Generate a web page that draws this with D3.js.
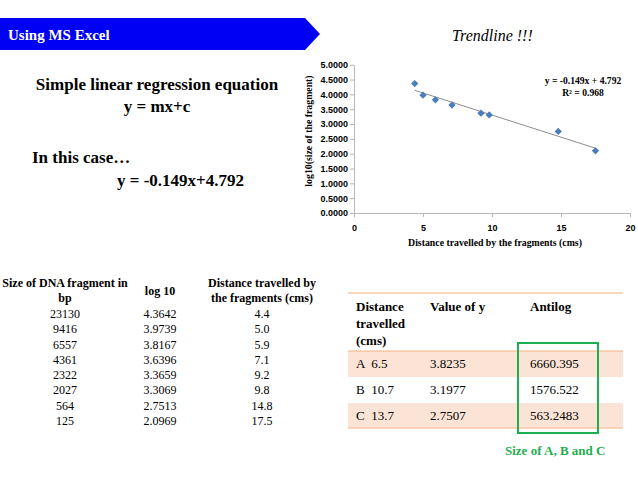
<!DOCTYPE html>
<html>
<head>
<meta charset="utf-8">
<script src="https://cdn.jsdelivr.net/npm/d3@7"></script>
<style>
  body { margin: 0; background: #fff; }
  svg { display: block; font-family: "Liberation Serif", "Times New Roman", serif; }
  .axis path, .axis line { stroke: #b8b8b8; }
  .axis text { font-size: 9px; font-weight: bold; fill: #000; }
</style>
</head>
<body>
<svg id="slide" width="638" height="478"></svg>
<script>
// fragment data (left table + scatter)
const sizes = [23130, 9416, 6557, 4361, 2322, 2027, 564, 125];
const logs = [4.3642, 3.9739, 3.8167, 3.6396, 3.3659, 3.3069, 2.7513, 2.0969];
const dists = [4.4, 5.0, 5.9, 7.1, 9.2, 9.8, 14.8, 17.5];
const logLabels = ["4.3642", "3.9739", "3.8167", "3.6396", "3.3659", "3.3069", "2.7513", "2.0969"];
const distLabels = ["4.4", "5.0", "5.9", "7.1", "9.2", "9.8", "14.8", "17.5"];

// trendline
const slope = -0.149;
const intercept = 4.792;

// right table
const unknowns = ["A", "B", "C"];
const unkDist = ["6.5", "10.7", "13.7"];
const unkY = ["3.8235", "3.1977", "2.7507"];
const unkAnti = ["6660.395", "1576.522", "563.2483"];

const xTicks = [0, 5, 10, 15, 20];
const yTicks = [0, 0.5, 1, 1.5, 2, 2.5, 3, 3.5, 4, 4.5, 5];

const svg = d3.select('#slide');

// header banner
svg.append('path')
  .attr('d', 'M0,18 L305,18 L320,34 L305,50 L0,50 Z')
  .attr('fill', '#0000f5');
svg.append('text')
  .attr('x', 8).attr('y', 40)
  .attr('fill', '#fff')
  .attr('font-weight', 'bold')
  .attr('font-size', 15)
  .text('Using MS Excel');
svg.append('text')
  .attr('x', 452).attr('y', 41)
  .attr('font-style', 'italic')
  .attr('font-size', 16)
  .text('Trendline !!!');

// left prose
let prose = [
  {t: 'Simple linear regression equation', x: 157, y: 90, a: 'middle'},
  {t: 'y = mx+c', x: 157, y: 112, a: 'middle'},
  {t: 'In this case\u2026', x: 32, y: 163, a: 'start'},
  {t: 'y = -0.149x+4.792', x: 117, y: 186, a: 'start'},
];
svg.selectAll('.prose').data(prose).enter()
  .append('text')
  .attr('x', d => d.x).attr('y', d => d.y)
  .attr('text-anchor', d => d.a)
  .attr('font-weight', 'bold')
  .attr('font-size', 17)
  .text(d => d.t);

// scatter chart
const x = d3.scaleLinear().domain([0, 20]).range([354, 630]);
const y = d3.scaleLinear().domain([0, 5]).range([213, 64.7]);

svg.append('g')
  .attr('class', 'axis')
  .attr('transform', 'translate(0,' + y(0) + ')')
  .call(d3.axisBottom(x).tickValues(xTicks).tickSize(4).tickSizeOuter(0).tickPadding(9))
  .selectAll('text').attr('dy', '0.5em');

svg.append('g')
  .attr('class', 'axis')
  .attr('transform', 'translate(' + x(0) + ',0)')
  .call(d3.axisLeft(y).tickValues(yTicks).tickSize(4).tickSizeOuter(0).tickPadding(2)
    .tickFormat(d3.format('.4f')));

svg.append('text')
  .attr('x', 495).attr('y', 246)
  .attr('text-anchor', 'middle')
  .attr('font-weight', 'bold')
  .attr('font-size', 9.8)
  .text('Distance travelled by the fragments (cms)');
svg.append('text')
  .attr('transform', 'translate(312,131) rotate(-90)')
  .attr('text-anchor', 'middle')
  .attr('font-weight', 'bold')
  .attr('font-size', 9.8)
  .text('log10(size of the fragment)');

// trendline over the data range
const xr = d3.extent(dists);
svg.append('line')
  .attr('x1', x(xr[0])).attr('y1', y(slope * xr[0] + intercept))
  .attr('x2', x(xr[1])).attr('y2', y(slope * xr[1] + intercept))
  .attr('stroke', '#8c8c8c')
  .attr('stroke-width', 1);

const diamond = d3.symbol().type(d3.symbolDiamond2).size(34);
svg.selectAll('.pt').data(dists).enter()
  .append('path')
  .attr('d', diamond)
  .attr('transform', (d, i) => 'translate(' + x(d) + ',' + y(logs[i]) + ')')
  .attr('fill', '#4a7ebb');

svg.append('text')
  .attr('x', 583).attr('y', 84)
  .attr('text-anchor', 'middle')
  .attr('font-weight', 'bold')
  .attr('font-size', 9.6)
  .text('y = -0.149x + 4.792');
svg.append('text')
  .attr('x', 583).attr('y', 96)
  .attr('text-anchor', 'middle')
  .attr('font-weight', 'bold')
  .attr('font-size', 9.6)
  .text('R\u00b2 = 0.968');

// left table
const colX = [65, 160, 262];
const headers = [
  {c: 0, lines: ['Size of DNA fragment in', 'bp'], y: 287},
  {c: 1, lines: ['log 10'], y: 295},
  {c: 2, lines: ['Distance travelled by', 'the fragments (cms)'], y: 287},
];
headers.forEach(h => {
  h.lines.forEach((l, k) => {
    svg.append('text')
      .attr('x', colX[h.c]).attr('y', h.y + k * 15)
      .attr('text-anchor', 'middle')
      .attr('font-weight', 'bold')
      .attr('font-size', 12)
      .text(l);
  });
});
const rowY = d3.scaleLinear().domain([0, 7]).range([318, 425]);
sizes.forEach((s, i) => {
  [String(s), logLabels[i], distLabels[i]].forEach((t, c) => {
    svg.append('text')
      .attr('x', colX[c]).attr('y', rowY(i))
      .attr('text-anchor', 'middle')
      .attr('font-size', 12)
      .text(t);
  });
});

// right table
const tl = 348, tr = 623;
const bandY = [351, 377, 403, 428];
[0, 2].forEach(i => {
  svg.append('rect')
    .attr('x', tl).attr('y', bandY[i])
    .attr('width', tr - tl).attr('height', bandY[i + 1] - bandY[i])
    .attr('fill', '#fbe4d5');
});
[293, 351, 428].forEach(ly => {
  svg.append('line')
    .attr('x1', tl).attr('x2', tr)
    .attr('y1', ly).attr('y2', ly)
    .attr('stroke', '#f4b183')
    .attr('stroke-width', 1.2);
});
const rcol = [356, 430, 530];
['Distance', 'travelled', '(cms)'].forEach((t, k) => {
  svg.append('text')
    .attr('x', rcol[0]).attr('y', 311 + k * 17)
    .attr('font-weight', 'bold').attr('font-size', 13)
    .text(t);
});
svg.append('text').attr('x', rcol[1]).attr('y', 311)
  .attr('font-weight', 'bold').attr('font-size', 13).text('Value of y');
svg.append('text').attr('x', rcol[2]).attr('y', 311)
  .attr('font-weight', 'bold').attr('font-size', 13).text('Antilog');

unknowns.forEach((u, i) => {
  let by = bandY[i] + 17;
  svg.append('text').attr('x', rcol[0]).attr('y', by)
    .attr('font-size', 13).text(u + '  ' + unkDist[i]).attr('xml:space', 'preserve');
  svg.append('text').attr('x', rcol[1]).attr('y', by)
    .attr('font-size', 13).text(unkY[i]);
  svg.append('text').attr('x', rcol[2]).attr('y', by)
    .attr('font-size', 13).text(unkAnti[i]);
});

svg.append('rect')
  .attr('x', 518).attr('y', 343)
  .attr('width', 80).attr('height', 90)
  .attr('fill', 'none')
  .attr('stroke', '#1fae4f')
  .attr('stroke-width', 2);
svg.append('text')
  .attr('x', 505).attr('y', 455)
  .attr('fill', '#1fae4f')
  .attr('font-weight', 'bold')
  .attr('font-size', 13)
  .text('Size of A, B and C');
</script>
</body>
</html>
